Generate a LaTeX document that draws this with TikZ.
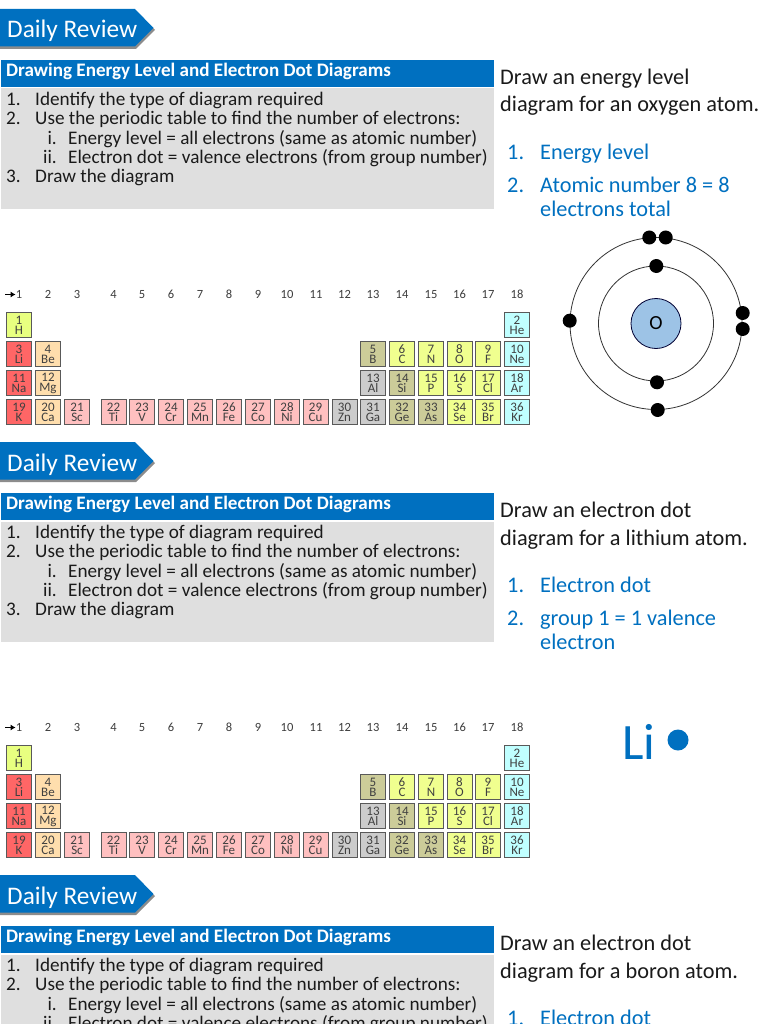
\documentclass[tikz,border=0pt]{standalone}
\usetikzlibrary{arrows.meta}
\usepackage{fontspec}
\setmainfont{Carlito}
\definecolor{brandblue}{HTML}{0070C0}
\definecolor{panelgray}{HTML}{DFDFDF}
\definecolor{txt}{HTML}{1A1A1A}
\definecolor{cY}{HTML}{F0FF8F}
\definecolor{cH}{HTML}{E8FF80}
\definecolor{cA}{HTML}{FF6666}
\definecolor{cE}{HTML}{FFDEAD}
\definecolor{cT}{HTML}{FFC0C0}
\definecolor{cM}{HTML}{CCCC99}
\definecolor{cP}{HTML}{CCCCCC}
\definecolor{cN}{HTML}{C0FFFF}
\definecolor{cNuc}{HTML}{9DC3E6}
\tikzset{
  banner/.style={fill=brandblue},
  bshadow/.style={fill=black!45},
  bannertext/.style={anchor=base west,text=white,font=\fontsize{25.3}{26}\selectfont,inner sep=0},
  headbar/.style={fill=brandblue},
  headtext/.style={anchor=base west,text=white,font=\bfseries\fontsize{19.1}{20}\selectfont,inner sep=0},
  graybox/.style={fill=panelgray},
  body/.style={anchor=base west,text=txt,font=\fontsize{19.2}{20}\selectfont,inner sep=0},
  bodyr/.style={anchor=base east,text=txt,font=\fontsize{19.2}{20}\selectfont,inner sep=0},
  prompt/.style={anchor=base west,text=txt,font=\fontsize{22.3}{24}\selectfont,inner sep=0},
  answer/.style={anchor=base west,text=brandblue,font=\fontsize{22.3}{24}\selectfont,inner sep=0},
  grp/.style={text=txt!85,font=\fontsize{12.5}{12}\selectfont,inner sep=0},
  cellbox/.style={draw=black!65,line width=0.9pt,minimum width=25pt,minimum height=25pt,inner sep=0,
     align=center,text=black!75,font=\fontsize{13}{10}\selectfont},
  orbit/.style={draw=black!80,line width=0.8pt},
  electron/.style={circle,fill=black,minimum size=14pt,inner sep=0},
  nucleus/.style={circle,draw=black!80!blue,fill=cNuc,line width=0.8pt,minimum size=50pt,inner sep=0,font=\fontsize{20}{20}\selectfont},
}
\newcommand{\pcell}[5]{\node[cellbox,fill=#5] (c\pn-#3) at (#1,#2) {#3\\#4};}
\newcommand{\ptable}{%
  \foreach \gx/\gl in {19/1,48/2,77/3,113.5/4,142/5,171/6,200/7,229/8,258/9,287/10,316/11,344.5/12,373/13,402/14,431/15,459.5/16,488/17,517/18}
    {\node[grp] (g\pn-\gl) at (\gx,294.5) {\gl};}
  \coordinate (ar\pn) at (5,294.5);
  \draw[-{Latex[length=5pt,width=6pt]},line width=1.1pt] (ar\pn) -- (g\pn-1.west);
  \pcell{19}{325}{1}{H}{cH}
  \pcell{517}{325}{2}{He}{cN}
  \pcell{19}{354}{3}{Li}{cA}
  \pcell{48}{354}{4}{Be}{cE}
  \pcell{373}{354}{5}{B}{cM}
  \pcell{402}{354}{6}{C}{cY}
  \pcell{431}{354}{7}{N}{cY}
  \pcell{459.5}{354}{8}{O}{cY}
  \pcell{488}{354}{9}{F}{cY}
  \pcell{517}{354}{10}{Ne}{cN}
  \pcell{19}{383}{11}{Na}{cA}
  \pcell{48}{383}{12}{Mg}{cE}
  \pcell{373}{383}{13}{Al}{cP}
  \pcell{402}{383}{14}{Si}{cM}
  \pcell{431}{383}{15}{P}{cY}
  \pcell{459.5}{383}{16}{S}{cY}
  \pcell{488}{383}{17}{Cl}{cY}
  \pcell{517}{383}{18}{Ar}{cN}
  \pcell{19}{412}{19}{K}{cA}
  \pcell{48}{412}{20}{Ca}{cE}
  \pcell{77}{412}{21}{Sc}{cT}
  \pcell{113.5}{412}{22}{Ti}{cT}
  \pcell{142}{412}{23}{V}{cT}
  \pcell{171}{412}{24}{Cr}{cT}
  \pcell{200}{412}{25}{Mn}{cT}
  \pcell{229}{412}{26}{Fe}{cT}
  \pcell{258}{412}{27}{Co}{cT}
  \pcell{287}{412}{28}{Ni}{cT}
  \pcell{315.5}{412}{29}{Cu}{cT}
  \pcell{344.5}{412}{30}{Zn}{cP}
  \pcell{373}{412}{31}{Ga}{cP}
  \pcell{402}{412}{32}{Ge}{cM}
  \pcell{431}{412}{33}{As}{cM}
  \pcell{459.5}{412}{34}{Se}{cY}
  \pcell{488}{412}{35}{Br}{cY}
  \pcell{517}{412}{36}{Kr}{cN}
}
\newcommand{\pframe}{%
  \fill[bshadow] (0,11) -- (136,11) -- (155,30) -- (136,49) -- (0,49) -- cycle;
  \fill[banner] (0,9) -- (135,9) -- (153.5,28) -- (135,46.5) -- (0,46.5) -- cycle;
  \node[bannertext] (bn\pn) at (7,38) {Daily Review};
  \fill[headbar] (1,60) rectangle (494,87);
  \node[headtext] (hd\pn) at (6,76.5) {Drawing Energy Level and Electron Dot Diagrams};
  \fill[graybox] (1,88.5) rectangle (494,209);
  \node[body] (s1n\pn) at (6,105.5) {1.};
  \node[body] (s1\pn) at (35,105.5) {Identify the type of diagram required};
  \node[body] (s2n\pn) at (6,124.5) {2.};
  \node[body] (s2\pn) at (35,124.5) {Use the periodic table to find the number of electrons:};
  \node[bodyr] (sin\pn) at (57,144.5) {i.};
  \node[body] (si\pn) at (68,144.5) {Energy level = all electrons (same as atomic number)};
  \node[bodyr] (sii\pn) at (57,163.5) {ii.};
  \node[body] (sij\pn) at (68,163.5) {Electron dot = valence electrons (from group number)};
}
\newcommand{\pstepthree}{%
  \node[body] (s3n\pn) at (6,182.5) {3.};
  \node[body] (s3\pn) at (35,182.5) {Draw the diagram};
}
\begin{document}
\begin{tikzpicture}[x=1pt,y=-1pt]
\useasboundingbox (0,0) rectangle (768,1024);
\clip (0,0) rectangle (768,1024);
\fill[white] (0,0) rectangle (768,1024);
% panel 1
\begin{scope}
\def\pn{a}
\pframe
\pstepthree
\ptable
\node[prompt] (p1a) at (500,84.5) {Draw an energy level};
\node[prompt] (p2a) at (500,112) {diagram for an oxygen atom.};
\node[answer] (a1na) at (507,159.5) {1.};
\node[answer] (a1a) at (540,159.5) {Energy level};
\node[answer] (a2na) at (507,192.5) {2.};
\node[answer] (a2a) at (540,192.5) {Atomic number 8 = 8};
\node[answer] (a3a) at (540,216.5) {electrons total};
\node[nucleus] (nuc) at (656,323.5) {\raisebox{-2pt}{O}};
\draw[orbit] (nuc.center) circle (57.5);
\draw[orbit] (nuc.center) circle (86);
\foreach \ex/\ey [count=\ei] in {649.3/237.5,665.7/237.5,656.3/266,569.7/320.7,742.7/313,742.7/329,657/382.3,657.7/410}
  {\node[electron] (e\ei) at (\ex,\ey) {};}
\end{scope}
% panel 2
\begin{scope}[shift={(0,433)}]
\def\pn{b}
\pframe
\pstepthree
\ptable
\node[prompt] (p1b) at (500,84.5) {Draw an electron dot};
\node[prompt] (p2b) at (500,112) {diagram for a lithium atom.};
\node[answer] (a1nb) at (507,159.5) {1.};
\node[answer] (a1b) at (540,159.5) {Electron dot};
\node[answer] (a2nb) at (507,192.5) {2.};
\node[answer] (a2b) at (540,192.5) {group 1 = 1 valence};
\node[answer] (a3b) at (540,216.5) {electron};
\node[anchor=base west,text=brandblue,font=\fontsize{51}{52}\selectfont,inner sep=0] (li) at (622,326) {Li};
\node[circle,fill=brandblue,minimum size=21pt,inner sep=0] (lidot) at (678,307) {};
\end{scope}
% panel 3
\begin{scope}[shift={(0,866)}]
\def\pn{c}
\pframe
\node[prompt] (p1c) at (500,84.5) {Draw an electron dot};
\node[prompt] (p2c) at (500,112) {diagram for a boron atom.};
\node[answer] (a1nc) at (507,159.5) {1.};
\node[answer] (a1c) at (540,159.5) {Electron dot};
\end{scope}
\end{tikzpicture}
\end{document}
